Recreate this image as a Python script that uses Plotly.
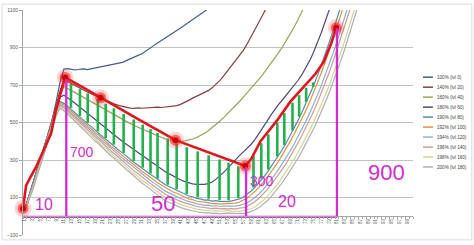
import plotly.graph_objects as go

# ---------------- data ----------------
cats = list(range(1, 101))
tick_vals = list(range(1, 101, 2))
tick_labels = [str(c) for c in tick_vals]
y_ticks = [-100, 100, 300, 500, 700, 900, 1100]

series_names = ["100% (lvl 0)", "140% (lvl 20)", "160% (lvl 40)", "180% (lvl 60)", "190% (lvl 80)",
                "192% (lvl 100)", "194% (lvl 120)", "196% (lvl 140)", "198% (lvl 160)", "200% (lvl 180)"]
series_colors = ["#3F5E95", "#8B3C3C", "#9AA257", "#4D4A7A", "#4F8FB5",
                 "#E8913F", "#8FAED4", "#D49A98", "#D2D694", "#B0ADB5"]

s100 = [40, 105, 172, 240, 308, 376, 445, 515, 610, 715, 785, 787, 783, 780, 784, 786, 782, 786, 791, 797,
        800, 804, 808, 812, 815, 821, 830, 838, 848, 858, 867, 880, 895, 910, 924, 937, 950, 963, 978, 992,
        1006, 1020, 1035, 1050, 1064, 1078, 1092, 1106, 1121]
s140 = [39, 103, 170, 238, 306, 374, 442, 510, 590, 670, 728, 718, 706, 695, 684, 673, 663, 652, 643, 634,
        625, 615, 606, 598, 591, 585, 580, 577, 575, 578, 576, 578, 580, 579, 582, 580, 583, 585, 586, 590,
        598, 607, 618, 630, 640, 648, 658, 670, 685, 703, 725, 750, 777, 805, 830, 857, 885, 920, 957, 995,
        1035, 1075, 1115]
s160 = [39, 102, 169, 237, 305, 373, 441, 509, 580, 650, 692, 682, 670, 658, 646, 634, 622, 610, 598, 586,
        574, 562, 550, 538, 527, 516, 505, 494, 484, 474, 465, 456, 447, 438, 429, 420, 413, 408, 404, 401,
        400, 402, 406, 412, 420, 430, 442, 456, 472, 490, 508, 527, 547, 568, 590, 612, 635, 658, 682, 706,
        731, 757, 784, 812, 841, 871, 902, 935, 970, 1008, 1048, 1090, 1135]
s180 = [38, 101, 168, 236, 304, 372, 440, 508, 570, 635, 645, 632, 616, 600, 583, 566, 549, 532, 515, 498,
        481, 464, 447, 431, 415, 399, 384, 369, 354, 339, 324, 309, 294, 279, 265, 251, 238, 226, 214, 203,
        193, 185, 178, 173, 170, 169, 170, 174, 183, 198, 215, 235, 257, 280, 302, 323, 343, 362, 384, 410,
        440, 472, 505, 538, 568, 595, 620, 645, 670, 696, 724, 755, 790, 830, 875, 925, 980, 1040, 1100, 1160]
s190 = [38, 100, 168, 236, 305, 372, 440, 508, 572, 612, 602, 585, 566, 550, 530, 514, 494, 478, 458, 442,
        423, 407, 388, 372, 353, 338, 320, 305, 287, 272, 255, 242, 225, 212, 195, 183, 168, 158, 145, 137,
        125, 118, 108, 104, 95, 93, 86, 87, 81, 83, 78, 80, 78, 82, 85, 92, 103, 118, 135, 155,
        178, 203, 230, 260, 290, 322, 356, 392, 430, 470, 510, 553, 598, 646, 697, 750, 806, 864, 925, 988,
        1053, 1120]
s192 = [36, 96, 162, 230, 298, 365, 432, 500, 565, 605, 594, 576, 557, 540, 520, 503, 483, 467, 447, 431,
        411, 395, 375, 359, 340, 324, 306, 291, 272, 257, 240, 226, 209, 195, 178, 166, 151, 141, 129, 121,
        110, 103, 93, 89, 80, 78, 72, 73, 67, 69, 65, 67, 66, 67, 70, 76, 85, 98, 114, 132,
        154, 178, 204, 232, 262, 293, 326, 361, 398, 437, 477, 519, 563, 609, 659, 711, 765, 822, 882, 944,
        1008, 1074, 1142]
s194 = [34, 92, 156, 224, 291, 358, 425, 492, 558, 598, 586, 567, 548, 530, 510, 492, 472, 456, 436, 420,
        399, 383, 362, 346, 327, 310, 292, 276, 257, 242, 224, 210, 193, 178, 161, 149, 134, 124, 112, 104,
        94, 87, 78, 74, 66, 63, 58, 59, 54, 56, 52, 54, 53, 53, 54, 58, 63, 72, 85, 101,
        119, 141, 165, 191, 219, 249, 280, 313, 348, 385, 424, 464, 506, 550, 596, 646, 698, 752, 809, 869,
        931, 995, 1061, 1129]
s196 = [33, 88, 150, 218, 284, 351, 418, 485, 550, 590, 578, 559, 539, 521, 500, 482, 461, 444, 424, 408,
        387, 370, 349, 332, 313, 296, 278, 261, 242, 227, 208, 194, 177, 161, 144, 132, 117, 107, 96, 88,
        78, 71, 63, 59, 52, 49, 44, 45, 41, 43, 39, 41, 39, 41, 39, 43, 46, 53, 64, 79,
        96, 116, 139, 164, 191, 221, 251, 283, 317, 353, 391, 431, 471, 514, 559, 607, 658, 711, 767, 825,
        886, 949, 1014, 1081, 1151]
s198 = [32, 85, 145, 212, 278, 344, 411, 478, 543, 583, 570, 551, 530, 512, 490, 472, 450, 433, 412, 396,
        375, 357, 336, 319, 299, 282, 263, 246, 227, 212, 192, 178, 161, 144, 127, 115, 100, 90, 80, 72,
        62, 55, 48, 44, 38, 35, 31, 32, 28, 30, 26, 28, 31, 26, 28, 26, 30, 33, 40, 51,
        66, 83, 103, 126, 151, 178, 208, 238, 270, 304, 340, 378, 418, 458, 501, 546, 594, 645, 698, 754,
        812, 873, 936, 1001, 1068, 1138]
s200 = [31, 82, 140, 206, 272, 338, 404, 471, 536, 576, 562, 543, 522, 503, 481, 462, 440, 422, 401, 384,
        363, 345, 323, 306, 286, 268, 249, 232, 212, 197, 177, 162, 145, 128, 110, 98, 83, 73, 63, 56,
        46, 39, 33, 29, 24, 21, 18, 19, 15, 17, 13, 15, 17, 15, 14, 14, 15, 18, 24, 33,
        46, 62, 80, 102, 126, 152, 180, 210, 241, 274, 309, 346, 385, 425, 467, 511, 557, 607, 659, 713,
        770, 830, 892, 956, 1022, 1090, 1161]
series_values = [s100, s140, s160, s180, s190, s192, s194, s196, s198, s200]

# hand-drawn overlay (in category / value units)
red_x = [0.5, 1.0, 1.3, 2.6, 3.9, 5.1, 6.4, 7.7, 8.9, 10.2, 11.3, 16.0, 20.4, 30.0, 39.6, 48.0, 57.5,
         59.0, 61.4, 63.5, 65.6, 69.0, 71.2, 73.3, 75.5, 77.6, 79.5, 80.8]
red_y = [42, 120, 165, 215, 265, 320, 380, 441, 562, 667, 740, 686, 632, 518, 406, 340, 268,
         305, 400, 455, 510, 610, 660, 705, 760, 823, 920, 1005]
dot_x = [0.5, 11.3, 20.4, 39.6, 57.5, 80.8]
dot_y = [42, 740, 632, 406, 268, 1005]

hatch_x = [12.8, 15.1, 17.1, 19.7, 21.7, 23.8, 26.3, 28.9, 31.2, 33.2, 35.0, 37.6, 39.9, 42.5, 45.3,
           48.1, 50.9, 53.2, 55.7, 59.6, 61.6, 63.4, 65.7, 67.5, 69.6, 71.3, 73.1, 74.9]
hatch_top = [705, 678, 655, 625, 600, 576, 546, 516, 489, 465, 444, 414, 388, 368, 346,
             325, 303, 285, 266, 322, 390, 437, 498, 550, 606, 646, 685, 714]
hatch_bottom = [578, 535, 498, 453, 417, 382, 338, 295, 259, 228, 201, 168, 144, 119, 101,
                93, 85, 85, 96, 153, 200, 249, 319, 380, 458, 531, 610, 690]

mag_h_x = [0.5, 81.05]
mag_h_y = [-3, -3]
mag_v_x = [11.6, 57.7, 81.0]
mag_v_top = [733, 262, 1003]

note_text = ["10", "700", "50", "300", "20", "900"]
note_x = [6.0, 15.6, 36.3, 61.9, 68.3, 93.6]
note_y = [63, 344, 68, 188, 78, 235]
note_size = [16, 14, 22, 14, 16, 22]

# ---------------- layout constants ----------------
W, H = 474, 245
ML, MR, MT, MB = 22, 61, 7, 8
PW = W - ML - MR
PH = H - MT - MB
FONT = "Liberation Sans"
MAGENTA = "#D12BD1"


def px_x(px):
    return (px - ML) / PW


def px_y(py):
    return (H - MB - py) / PH


fig = go.Figure()

for name, vals, col in zip(series_names, series_values, series_colors):
    fig.add_trace(go.Scatter(x=cats[:len(vals)], y=vals, mode="lines", name=name,
                             line=dict(color=col, width=1.2), showlegend=False, hoverinfo="skip"))

# green hatching
hx, hy = [], []
for x, t, b in zip(hatch_x, hatch_top, hatch_bottom):
    hx += [x, x, None]
    hy += [t, b, None]
fig.add_trace(go.Scatter(x=hx, y=hy, mode="lines", line=dict(color="#22B14C", width=2.6),
                         showlegend=False, hoverinfo="skip"))

# red hand line
fig.add_trace(go.Scatter(x=red_x, y=red_y, mode="lines", line=dict(color="#E3141B", width=2.6),
                         showlegend=False, hoverinfo="skip"))
for size, col in [(17, "rgba(255,60,60,0.22)"), (11, "rgba(235,20,20,0.55)"), (6, "#D30000")]:
    fig.add_trace(go.Scatter(x=dot_x, y=dot_y, mode="markers", cliponaxis=False,
                             marker=dict(size=size, color=col, line=dict(width=0)),
                             showlegend=False, hoverinfo="skip"))

# magenta lines
mx, my = list(mag_h_x) + [None], list(mag_h_y) + [None]
for x, top in zip(mag_v_x, mag_v_top):
    mx += [x, x, None]
    my += [mag_h_y[0], top, None]
fig.add_trace(go.Scatter(x=mx, y=my, mode="lines", line=dict(color=MAGENTA, width=2.3),
                         showlegend=False, hoverinfo="skip"))

annotations = []
for t, x, y, s in zip(note_text, note_x, note_y, note_size):
    annotations.append(dict(x=x, y=y, xref="x", yref="y", text=t, showarrow=False,
                            font=dict(family=FONT, size=s, color=MAGENTA)))

# manual legend
shapes = [dict(type="rect", xref="paper", yref="paper", x0=px_x(1), x1=px_x(472),
               y0=px_y(242), y1=px_y(1), line=dict(color="#D9D9D9", width=1), layer="below")]
for i, (name, col) in enumerate(zip(series_names, series_colors)):
    yy = px_y(75.7 + i * 10.2)
    shapes.append(dict(type="line", xref="paper", yref="paper", x0=px_x(423), x1=px_x(433),
                       y0=yy, y1=yy, line=dict(color=col, width=1.5)))
    annotations.append(dict(x=px_x(435), y=yy, xref="paper", yref="paper", text=name,
                            showarrow=False, xanchor="left", yanchor="middle",
                            font=dict(family=FONT, size=4.6, color="#404040")))

fig.update_layout(
    width=W, height=H, autosize=False,
    margin=dict(l=ML, r=MR, t=MT, b=MB, pad=0),
    paper_bgcolor="white", plot_bgcolor="white",
    font=dict(family=FONT, size=5, color="#595959"),
    showlegend=False,
    xaxis=dict(range=[0.5, 100.5], tickmode="array", tickvals=tick_vals, ticktext=tick_labels,
               tickangle=-90, tickfont=dict(size=4.5, color="#595959"), showgrid=False,
               zeroline=False, showline=True, linecolor="#A6A6A6", linewidth=1,
               anchor="free", position=100 / 1200, ticks="",
               minor=dict(ticks="outside", ticklen=2, tickcolor="#A6A6A6", dtick=1, tick0=0.5,
                          showgrid=False)),
    yaxis=dict(range=[-100, 1100], tickmode="array", tickvals=y_ticks, showgrid=True,
               gridcolor="#C4C4C4", gridwidth=1, zeroline=False, showline=True,
               linecolor="#A6A6A6", linewidth=1, ticks="outside", ticklen=3, tickcolor="#A6A6A6",
               tickfont=dict(size=5, color="#595959")),
    shapes=shapes,
    annotations=annotations,
)

fig.write_html("out.html")
